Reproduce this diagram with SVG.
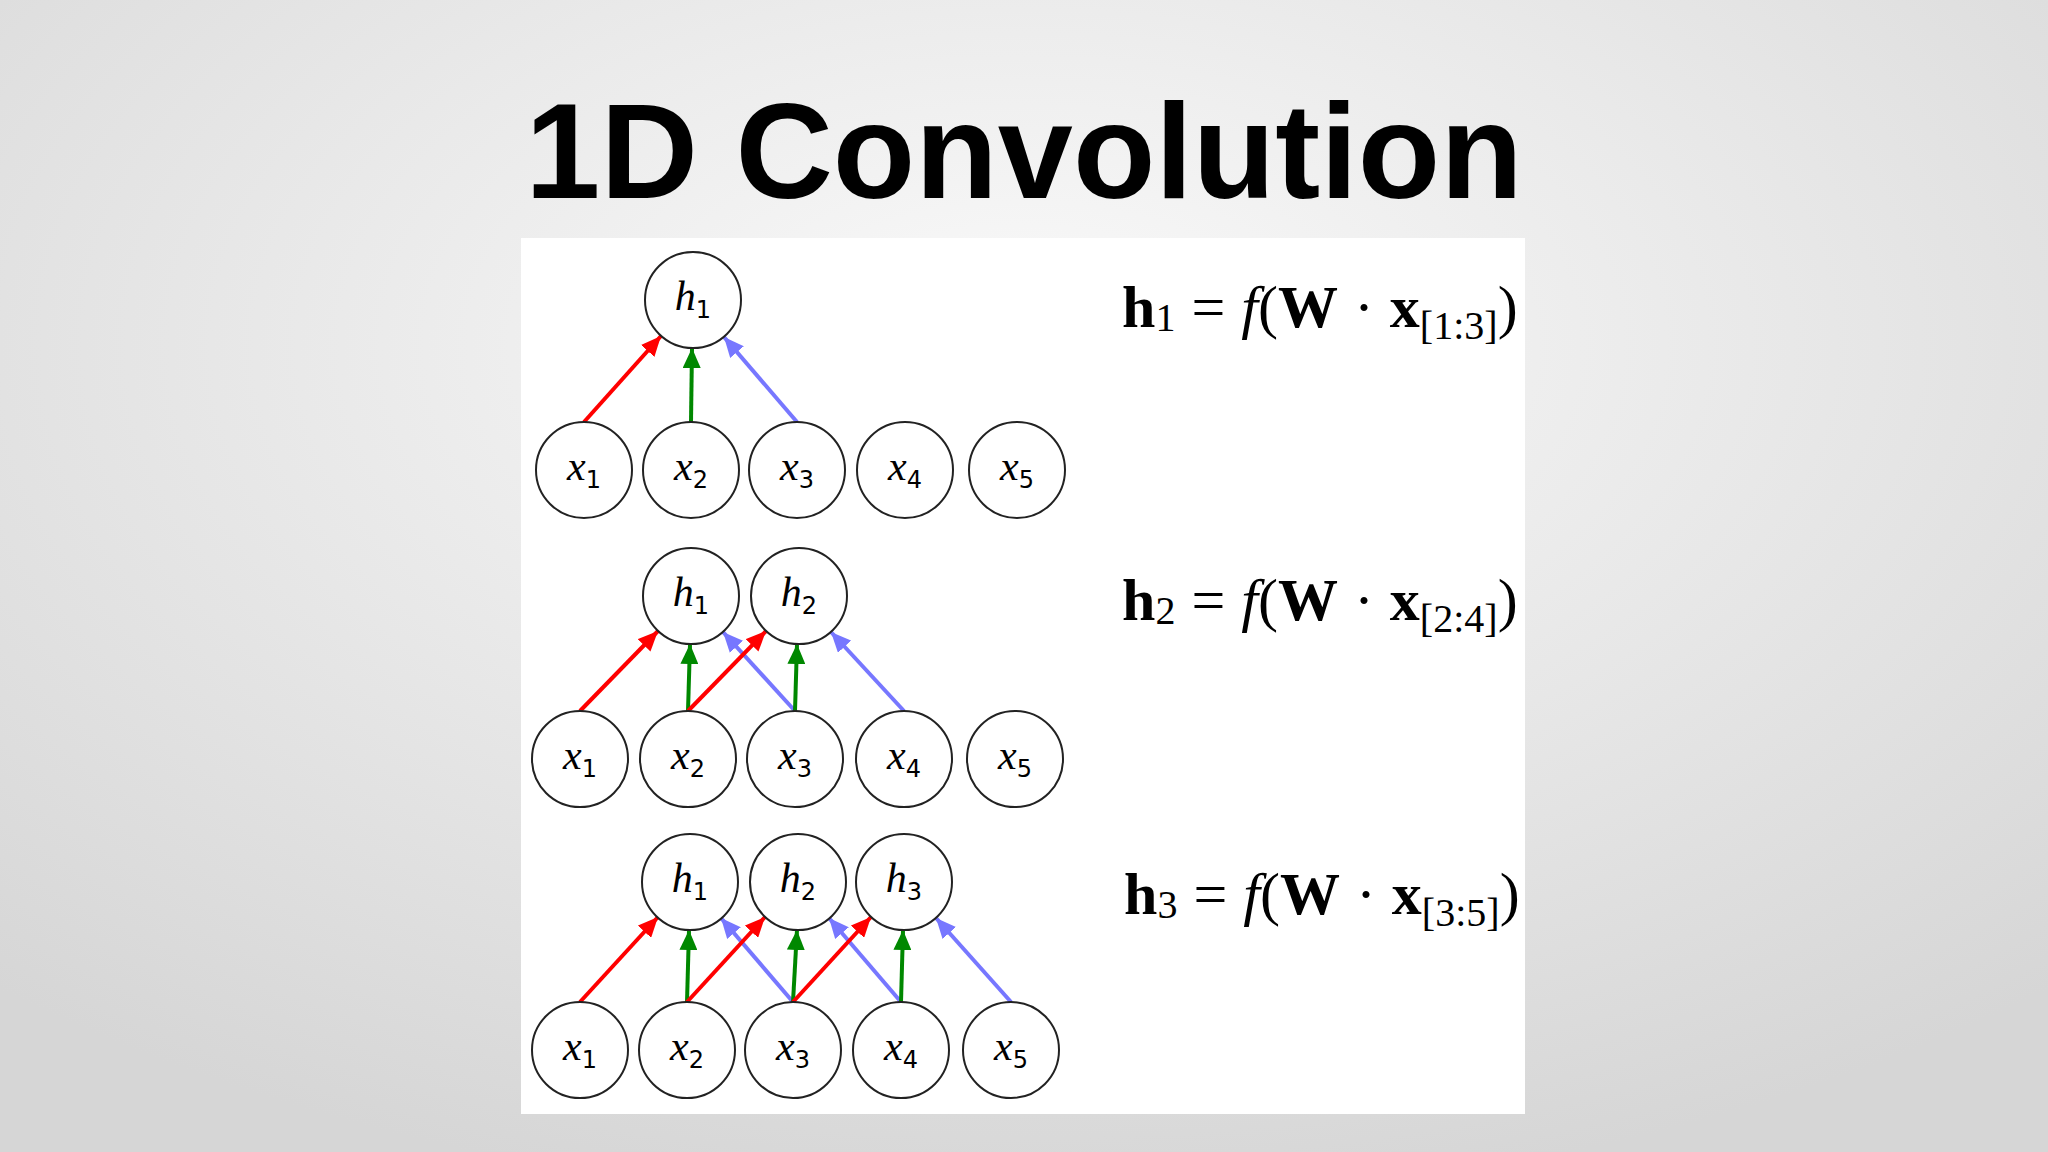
<svg xmlns="http://www.w3.org/2000/svg" width="2048" height="1152" viewBox="0 0 2048 1152">
<defs>
<radialGradient id="bg" cx="50%" cy="30%" r="75%"><stop offset="0" stop-color="#fafafa"/><stop offset="1" stop-color="#d6d6d6"/></radialGradient>
<marker id="ar" markerUnits="userSpaceOnUse" markerWidth="22" markerHeight="18" refX="20" refY="9" orient="auto"><path d="M0,0 L20,9 L0,18 z" fill="#f00"/></marker>
<marker id="ag" markerUnits="userSpaceOnUse" markerWidth="22" markerHeight="18" refX="20" refY="9" orient="auto"><path d="M0,0 L20,9 L0,18 z" fill="#080"/></marker>
<marker id="ab" markerUnits="userSpaceOnUse" markerWidth="22" markerHeight="18" refX="20" refY="9" orient="auto"><path d="M0,0 L20,9 L0,18 z" fill="#77f"/></marker>
</defs>
<style>
.n{fill:#fff;stroke:#222;stroke-width:2}
.l{font-family:"Liberation Serif",serif;font-style:italic;font-size:42px;text-anchor:middle}
.s{font-family:"DejaVu Sans",sans-serif;font-style:normal;font-size:24px}
.r{stroke:#f00;stroke-width:4;marker-end:url(#ar)}
.g{stroke:#080;stroke-width:4;marker-end:url(#ag)}
.b{stroke:#77f;stroke-width:4;marker-end:url(#ab)}
.eq{font-family:"Liberation Serif",serif;font-size:60px;word-spacing:1px}
.eb{font-weight:bold}
.es{font-size:40px}
</style>
<rect width="2048" height="1152" fill="url(#bg)"/>
<text x="1024" y="198" text-anchor="middle" font-family="Liberation Sans,sans-serif" font-weight="bold" font-size="135">1D Convolution</text>
<rect x="521" y="238" width="1004" height="876" fill="#fff"/>
<g id="connectors">
<line class="r" x1="584" y1="422" x2="661" y2="336"/><line class="g" x1="691" y1="422" x2="692" y2="348"/><line class="b" x1="797" y1="422" x2="724" y2="337"/>
<line class="r" x1="580" y1="711" x2="658" y2="631"/><line class="g" x1="688" y1="711" x2="690" y2="644"/><line class="b" x1="795" y1="711" x2="723" y2="632"/>
<line class="r" x1="688" y1="711" x2="766" y2="631"/><line class="g" x1="795" y1="711" x2="797" y2="644"/><line class="b" x1="904" y1="711" x2="831" y2="632"/>
<line class="r" x1="580" y1="1002" x2="658" y2="917"/><line class="g" x1="687" y1="1002" x2="689" y2="930"/><line class="b" x1="793" y1="1002" x2="721" y2="918"/>
<line class="r" x1="687" y1="1002" x2="765" y2="917"/><line class="g" x1="793" y1="1002" x2="797" y2="930"/><line class="b" x1="901" y1="1002" x2="829" y2="918"/>
<line class="r" x1="793" y1="1002" x2="871" y2="917"/><line class="g" x1="901" y1="1002" x2="903" y2="930"/><line class="b" x1="1011" y1="1002" x2="936" y2="918"/>
</g>
<g id="r1h1"><circle class="n" cx="693" cy="300" r="48"/><text class="l" x="693" y="310">h<tspan class="s" dy="8">1</tspan></text></g>
<g id="r1x1"><circle class="n" cx="584" cy="470" r="48"/><text class="l" x="584" y="480">x<tspan class="s" dy="8">1</tspan></text></g>
<g id="r1x2"><circle class="n" cx="691" cy="470" r="48"/><text class="l" x="691" y="480">x<tspan class="s" dy="8">2</tspan></text></g>
<g id="r1x3"><circle class="n" cx="797" cy="470" r="48"/><text class="l" x="797" y="480">x<tspan class="s" dy="8">3</tspan></text></g>
<g id="r1x4"><circle class="n" cx="905" cy="470" r="48"/><text class="l" x="905" y="480">x<tspan class="s" dy="8">4</tspan></text></g>
<g id="r1x5"><circle class="n" cx="1017" cy="470" r="48"/><text class="l" x="1017" y="480">x<tspan class="s" dy="8">5</tspan></text></g>
<g id="r2h1"><circle class="n" cx="691" cy="596" r="48"/><text class="l" x="691" y="606">h<tspan class="s" dy="8">1</tspan></text></g>
<g id="r2h2"><circle class="n" cx="799" cy="596" r="48"/><text class="l" x="799" y="606">h<tspan class="s" dy="8">2</tspan></text></g>
<g id="r2x1"><circle class="n" cx="580" cy="759" r="48"/><text class="l" x="580" y="769">x<tspan class="s" dy="8">1</tspan></text></g>
<g id="r2x2"><circle class="n" cx="688" cy="759" r="48"/><text class="l" x="688" y="769">x<tspan class="s" dy="8">2</tspan></text></g>
<g id="r2x3"><circle class="n" cx="795" cy="759" r="48"/><text class="l" x="795" y="769">x<tspan class="s" dy="8">3</tspan></text></g>
<g id="r2x4"><circle class="n" cx="904" cy="759" r="48"/><text class="l" x="904" y="769">x<tspan class="s" dy="8">4</tspan></text></g>
<g id="r2x5"><circle class="n" cx="1015" cy="759" r="48"/><text class="l" x="1015" y="769">x<tspan class="s" dy="8">5</tspan></text></g>
<g id="r3h1"><circle class="n" cx="690" cy="882" r="48"/><text class="l" x="690" y="892">h<tspan class="s" dy="8">1</tspan></text></g>
<g id="r3h2"><circle class="n" cx="798" cy="882" r="48"/><text class="l" x="798" y="892">h<tspan class="s" dy="8">2</tspan></text></g>
<g id="r3h3"><circle class="n" cx="904" cy="882" r="48"/><text class="l" x="904" y="892">h<tspan class="s" dy="8">3</tspan></text></g>
<g id="r3x1"><circle class="n" cx="580" cy="1050" r="48"/><text class="l" x="580" y="1060">x<tspan class="s" dy="8">1</tspan></text></g>
<g id="r3x2"><circle class="n" cx="687" cy="1050" r="48"/><text class="l" x="687" y="1060">x<tspan class="s" dy="8">2</tspan></text></g>
<g id="r3x3"><circle class="n" cx="793" cy="1050" r="48"/><text class="l" x="793" y="1060">x<tspan class="s" dy="8">3</tspan></text></g>
<g id="r3x4"><circle class="n" cx="901" cy="1050" r="48"/><text class="l" x="901" y="1060">x<tspan class="s" dy="8">4</tspan></text></g>
<g id="r3x5"><circle class="n" cx="1011" cy="1050" r="48"/><text class="l" x="1011" y="1060">x<tspan class="s" dy="8">5</tspan></text></g>
<g id="eq1"><text class="eq" x="1122" y="327"><tspan class="eb">h</tspan><tspan class="es" dy="4">1</tspan><tspan dy="-4"> = </tspan><tspan font-style="italic">f</tspan>(<tspan class="eb">W</tspan> · <tspan class="eb">x</tspan><tspan class="es" dy="12">[1:3]</tspan><tspan dy="-12">)</tspan></text></g>
<g id="eq2"><text class="eq" x="1122" y="620"><tspan class="eb">h</tspan><tspan class="es" dy="4">2</tspan><tspan dy="-4"> = </tspan><tspan font-style="italic">f</tspan>(<tspan class="eb">W</tspan> · <tspan class="eb">x</tspan><tspan class="es" dy="12">[2:4]</tspan><tspan dy="-12">)</tspan></text></g>
<g id="eq3"><text class="eq" x="1124" y="914"><tspan class="eb">h</tspan><tspan class="es" dy="4">3</tspan><tspan dy="-4"> = </tspan><tspan font-style="italic">f</tspan>(<tspan class="eb">W</tspan> · <tspan class="eb">x</tspan><tspan class="es" dy="12">[3:5]</tspan><tspan dy="-12">)</tspan></text></g>
</svg>
